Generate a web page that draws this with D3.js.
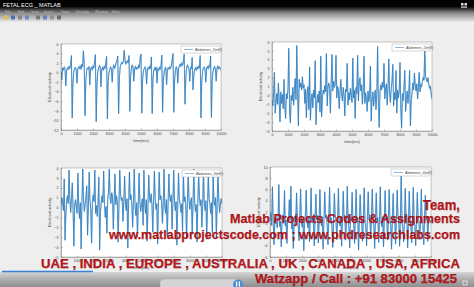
<!DOCTYPE html>
<html lang="en">
<head>
<meta charset="utf-8">
<title>FETAL ECG _ MATLAB</title>
<script src="https://d3js.org/d3.v7.min.js"></script>
<style>
  body { margin: 0; background: #eeeeee; }
  svg { display: block; font-family: "Liberation Sans", Arial, sans-serif; }
</style>
</head>
<body>
<script>
// sampling step of the traces (ms)
var timeStep = 50;
var xTicks = [0, 1000, 2000, 3000, 4000, 5000, 6000, 7000, 8000, 9000, 10000];

var legendNames = ["Abdomen_1(mV)", "Abdomen_2(mV)", "Abdomen_3(mV)", "Abdomen_4(mV)"];
var yTicks1 = [-12, -10, -8, -6, -4, -2, 0, 2, 4, 6];
var yTicks2 = [-4, -3, -2, -1, 0, 1, 2, 3, 4, 5, 6];
var yTicks3 = [-5, -4, -3, -2, -1, 0, 1, 2, 3, 4];
var yTicks4 = [-6, -4, -2, 0, 2, 4, 6, 8, 10];

var abdomen1 = [
  0.2, -1.5, 1.0, 0.6, 1.2, 0.8, -2.8, 0.4, 1.0, 0.7,
  1.3, 0.9, 1.6, 3.6, -9.5, -2.0, 0.2, 0.9, 1.1, 0.6,
  -2.2, 0.8, 1.2, 0.9, 1.4, 0.7, 1.8, 1.2, 4.6, 2.1,
  -9.0, -1.8, 0.4, 1.0, 0.8, 1.3, -2.6, 0.9, 1.1, 0.6,
  1.4, 1.0, 2.2, 3.8, -10.3, -2.4, 0.2, 1.0, 1.5, 1.2,
  -3.0, 0.8, 1.1, 0.5, 1.3, 0.9, 2.0, 3.4, -9.7, -1.6,
  0.1, 0.7, 1.2, 0.8, -2.0, 1.0, 1.6, 0.9, 1.4, 2.1,
  2.6, 3.5, -8.6, -1.0, 1.2, 1.8, 2.2, 1.9, 2.4, 4.7,
  2.6, 1.8, 2.3, 2.5, 2.0, 3.6, -8.1, -0.8, 1.0, 1.6,
  1.2, -1.8, 0.9, 1.3, 0.7, 1.1, 0.8, 1.5, 1.0, 3.2,
  3.9, -8.5, -1.4, 0.3, 0.9, 1.2, 0.6, -2.4, 0.8, 1.1,
  0.7, 1.3, 0.9, 3.3, -8.6, -1.2, 0.4, 1.0, 0.6, 1.2,
  -2.2, 0.8, 0.5, 1.1, 0.7, 1.4, 3.7, -8.3, -1.5, 0.2,
  0.8, 1.2, -2.5, 0.6, 1.0, 0.7, 1.2, 0.9, 1.5, 2.8,
  4.0, -8.3, -1.6, 0.4, 1.2, 0.8, -2.2, 1.0, 1.4, 1.8,
  1.3, 2.0, 1.6, 2.4, 3.9, -6.6, -1.0, 1.0, 1.6, 1.2,
  0.8, -1.8, 1.1, 0.9, 3.2, -3.6, -0.8, 0.6, 1.0, 0.5,
  1.2, 0.8, 1.3, 1.0, 3.6, -9.5, -1.8, 0.3, 0.9, 1.2,
  0.7, -2.0, 0.9, 1.3, 0.8, 1.5, 1.1, 3.5, -9.4, -1.6,
  0.2, 0.9, 1.3, 0.7, -1.8, 1.0, 1.4, 0.8, 1.2, 0.9,
  0.6
];

var abdomen2 = [
  -0.5, -1.2, 0.3, 2.6, -2.0, -0.8, 0.2, -1.0, 1.4, -0.6,
  -3.0, 0.4, -0.9, 0.1, -1.5, 1.8, -1.2, -2.6, 0.2, -0.4,
  0.8, 5.3, -1.8, -3.1, 0.0, -0.6, 0.9, -1.1, 0.6, 1.9,
  -0.5, 5.6, 0.4, -3.4, 1.8, 0.9, 1.4, 0.6, 2.1, 0.8,
  1.2, -0.9, 0.7, -2.5, 0.3, 1.0, -1.6, 3.2, -2.8, -0.7,
  0.2, -1.4, 0.6, -0.3, 3.9, -3.3, -1.0, 0.1, -0.8, 0.5,
  -1.9, 4.4, -2.4, -0.4, 0.6, 0.2, 1.1, 0.4, 4.7, -1.2,
  0.9, 1.4, 0.8, -2.0, 1.3, 4.6, 0.5, 1.6, 0.9, 1.2,
  4.5, -0.3, 1.0, 0.6, -1.5, 0.4, 1.8, 0.2, -0.6, 0.9,
  0.1, -2.3, 0.7, 0.4, 3.6, -1.1, 0.3, -0.5, 0.8, 0.0,
  -0.8, 4.2, -0.3, 0.6, -2.6, 0.9, 0.2, 4.5, -0.6, 1.4,
  2.0, 0.5, 1.2, -1.0, 0.6, 4.4, -0.9, 0.3, -0.4, -1.8,
  0.5, -0.7, 0.1, 3.3, -2.9, -0.5, 0.4, -1.2, -0.2, 0.6,
  -1.6, 0.2, 5.5, -0.8, -3.6, 0.4, 1.2, 0.6, 1.5, 0.9,
  3.6, -0.4, 0.8, 1.3, -1.1, 0.9, 4.1, 0.2, -0.8, 0.7,
  1.6, 3.5, -1.2, 0.3, -0.5, 2.8, -2.0, 0.6, -0.3, 0.4,
  3.7, -1.5, -3.7, 0.2, -0.6, 1.0, 2.8, -1.8, -0.4, 0.5,
  -0.9, 0.3, 2.8, -3.4, -0.7, 0.2, 1.4, 0.6, 2.5, 1.3,
  0.5, 1.3, -0.4, 0.9, 2.6, 0.4, 1.2, 1.0, 1.6, 2.0,
  1.7, 5.3, 2.1, 1.8, 1.5, 2.0, 1.2, 0.8, 1.0, 0.2,
  -0.4
];

var abdomen3 = [
  0.2, 1.0, 0.5, -0.3, 2.9, -3.3, -0.8, 0.6, 1.2, 0.4,
  3.8, 0.9, -0.5, 0.7, 2.5, -0.2, -3.9, 0.3, 0.8, 0.1,
  -0.6, 3.5, 0.2, -1.1, 0.5, -4.2, 0.6, 3.9, 0.8, -0.4,
  0.3, 1.1, 2.2, -2.8, 0.0, 3.6, 0.7, -0.2, -3.6, 0.5,
  1.3, 0.6, 3.8, -0.6, 0.2, -0.9, 0.4, 3.1, -4.3, -0.5,
  0.6, 1.2, 0.5, 3.7, 0.3, -1.0, 0.1, -2.6, 0.8, 1.6,
  3.9, 1.0, 0.4, 1.5, 1.1, -2.2, 0.6, 3.4, 0.3, 1.2,
  0.5, -3.5, 0.2, 3.8, 1.4, 0.7, 1.0, -1.4, 0.5, 3.2,
  0.6, -0.3, 0.9, -4.1, 0.4, 3.6, 0.8, 1.3, 0.2, -2.0,
  0.7, 3.9, 0.1, -0.8, 0.5, -3.0, 0.3, 3.5, 0.6, -0.4,
  0.2, 0.9, -1.8, 3.8, 0.4, -0.6, 0.8, -3.4, 0.1, 3.3,
  1.0, 0.5, 1.4, 0.3, -2.5, 0.6, 3.7, 0.9, -0.2, 0.4,
  -3.7, 0.2, 3.6, 0.8, 1.2, 0.5, -1.6, 0.4, 3.9, 0.1,
  -0.6, 0.8, -2.9, 0.3, 3.4, 1.1, 0.6, 1.3, -2.2, 0.5,
  3.8, 0.7, -0.3, 0.6, -3.8, 0.2, 3.5, 0.9, 0.3, -0.5,
  0.4, -2.4, 3.7, 0.6, 1.1, 0.2, -3.1, 0.5, 3.6, 0.8,
  -0.2, 0.6, 1.0, -2.7, 0.4, 3.9, 0.7, -0.4, 0.3, -3.5,
  0.6, 3.4, 1.0, 0.2, 0.8, -2.0, 0.3, 3.7, 0.5, -0.3,
  0.7, -3.2, 0.1, 3.5, 0.9, 0.4, -0.6, 0.5, -2.6, 3.3,
  0.6, 0.2, 1.0, -3.0, 0.4, 3.6, 0.8, -0.5, 0.3, 0.9,
  0.4
];

var abdomen4 = [
  0.5, 1.8, -0.4, 6.5, 0.2, -3.8, 0.6, 1.2, 0.3, -0.8,
  0.9, 6.9, -0.6, 0.4, -4.2, 0.8, 1.5, 0.2, 5.8, -0.5,
  0.6, -3.6, 1.0, 0.3, 4.2, 0.5, 6.6, -1.0, 0.4, -4.5,
  0.7, 1.3, 0.2, 5.4, 0.9, -0.3, -3.1, 1.1, 6.1, 0.4,
  -0.7, 0.8, -4.9, 0.5, 1.6, 5.9, 0.3, -0.8, 1.2, -3.3,
  0.6, 6.3, 0.1, 1.0, -0.4, -4.0, 0.9, 5.2, 0.6, 1.4,
  -3.5, 0.2, 6.0, 0.8, -0.5, 1.1, -4.6, 0.4, 5.6, 0.9,
  1.5, -0.2, -3.8, 0.7, 6.4, 0.3, 1.0, -0.6, -4.3, 0.5,
  5.3, 1.2, 0.4, -2.9, 0.8, 6.2, 0.1, -0.5, 1.3, -4.1,
  0.6, 5.7, 0.9, 1.4, -3.0, 0.2, 6.6, 0.5, -0.8, -4.4,
  1.0, 0.4, 5.5, 0.7, -0.3, -3.6, 1.2, 6.0, 0.3, 0.9,
  -4.8, 0.5, 5.1, 1.3, 0.2, -3.2, 0.8, 6.3, 0.4, -0.7,
  -4.0, 1.1, 5.6, 0.6, 1.5, -2.8, 0.3, 6.1, 0.9, -0.4,
  -4.5, 0.7, 5.4, 0.2, 1.0, -3.4, 0.6, 6.5, 0.1, -0.6,
  1.2, -4.2, 0.5, 5.8, 0.8, 1.3, -3.0, 0.4, 6.0, 0.7,
  -0.5, -4.6, 1.0, 5.3, 0.3, 0.9, -3.7, 0.6, 5.9, 1.1,
  0.2, -4.1, 0.8, 9.5, 0.4, -0.9, -3.3, 0.5, 6.2, 0.9,
  1.4, -4.4, 0.3, 5.7, 0.7, -0.2, -3.5, 1.0, 6.4, 0.5,
  -0.6, -4.0, 0.8, 5.5, 1.2, 0.3, -2.9, 0.6, 6.1, 0.2,
  -0.4, -3.8, 0.9, 5.0, 0.6, 1.1, -3.2, 0.4, 0.8, 0.2,
  0.5
];

var overlayLines = [
  "Team,",
  "Matlab Projects Codes & Assignments",
  "www.matlabprojectscode.com ; www.phdresearchlabs.com",
  "UAE , INDIA , EUROPE , AUSTRALIA , UK , CANADA , USA, AFRICA",
  "Watzapp / Call : +91 83000 15425"
];
var menuItems = ["File", "Edit", "View", "Insert", "Tools", "Desktop", "Window", "Help"];

var width = 474, height = 287;

var svg = d3.select("body").append("svg")
    .attr("width", width)
    .attr("height", height);

var defs = svg.append("defs");
var hdr = defs.append("linearGradient").attr("id", "hdr")
    .attr("x1", 0).attr("y1", 0).attr("x2", 0).attr("y2", 1);
hdr.append("stop").attr("offset", "0").attr("stop-color", "#000");
hdr.append("stop").attr("offset", "0.3").attr("stop-color", "#050505");
hdr.append("stop").attr("offset", "0.6").attr("stop-color", "#8c8c8c");
hdr.append("stop").attr("offset", "1").attr("stop-color", "#e9e9e9");

var bar = defs.append("linearGradient").attr("id", "bar")
    .attr("x1", 0).attr("y1", 0).attr("x2", 0).attr("y2", 1);
bar.append("stop").attr("offset", "0").attr("stop-color", "#d6d6d6");
bar.append("stop").attr("offset", "0.4").attr("stop-color", "#b4b4b4");
bar.append("stop").attr("offset", "1").attr("stop-color", "#8e8e8e");

// window background
svg.append("rect").attr("width", width).attr("height", height).attr("fill", "#eeeeee");

// title bar + menu + toolbar
svg.append("rect").attr("width", width).attr("height", 22).attr("fill", "url(#hdr)");
svg.append("text").attr("x", 3).attr("y", 7)
    .attr("font-size", 5.5).attr("fill", "#fff")
    .text("FETAL ECG _ MATLAB");

var mx = 5;
menuItems.forEach(function(m) {
    svg.append("text").attr("x", mx).attr("y", 12.5)
        .attr("font-size", 3.6).attr("fill", "#bdbdbd").text(m);
    mx += m.length * 2 + 5;
});

var iconColors = ["#e0c040", "#3060b0", "#7a7a7a", "#5080c0", "#6a6a6a", "#4a78b8", "#8a8a8a", "#5a5a5a"];
iconColors.forEach(function(c, i) {
    svg.append("rect").attr("x", 4 + i * 7 + (i > 3 ? 4 : 0)).attr("y", 15.5)
        .attr("width", 4).attr("height", 4).attr("fill", c).attr("opacity", 0.8);
});
svg.append("rect").attr("x", 461).attr("y", 3).attr("width", 2.5).attr("height", 2.5).attr("fill", "#ddd");
svg.append("rect").attr("x", 464.5).attr("y", 3).attr("width", 2.5).attr("height", 2.5).attr("fill", "#ddd");
svg.append("rect").attr("x", 461).attr("y", 6.5).attr("width", 6).attr("height", 1.2).attr("fill", "#ddd");

var panels = [
    { data: abdomen1, ticks: yTicks1, name: legendNames[0], x0: 61,  x1: 221, y0: 44,  y1: 130 },
    { data: abdomen2, ticks: yTicks2, name: legendNames[1], x0: 272, x1: 432, y0: 42,  y1: 131 },
    { data: abdomen3, ticks: yTicks3, name: legendNames[2], x0: 61,  x1: 222, y0: 168, y1: 257 },
    { data: abdomen4, ticks: yTicks4, name: legendNames[3], x0: 270, x1: 431, y0: 167, y1: 257 }
];

panels.forEach(function(p, k) {
    var x = d3.scaleLinear().domain([0, 10000]).range([p.x0, p.x1]);
    var y = d3.scaleLinear().domain(d3.extent(p.ticks)).range([p.y1, p.y0]);
    var g = svg.append("g");

    g.append("rect").attr("x", p.x0).attr("y", p.y0)
        .attr("width", p.x1 - p.x0).attr("height", p.y1 - p.y0)
        .attr("fill", "#fff");

    g.append("clipPath").attr("id", "clip" + k)
        .append("rect").attr("x", p.x0).attr("y", p.y0)
        .attr("width", p.x1 - p.x0).attr("height", p.y1 - p.y0);

    var line = d3.line()
        .x(function(d, i) { return x(i * timeStep); })
        .y(function(d) { return y(d); });

    g.append("path").datum(p.data)
        .attr("clip-path", "url(#clip" + k + ")")
        .attr("fill", "none")
        .attr("stroke", "#8fc0e3")
        .attr("stroke-width", 1.1)
        .attr("d", line);
    g.append("path").datum(p.data)
        .attr("clip-path", "url(#clip" + k + ")")
        .attr("fill", "none")
        .attr("stroke", "#1f6fb5")
        .attr("stroke-width", 0.6)
        .attr("d", line);

    var xAxis = g.append("g").attr("transform", "translate(0," + p.y1 + ")")
        .call(d3.axisBottom(x).tickValues(xTicks).tickFormat(d3.format("d"))
            .tickSizeInner(-1.5).tickSizeOuter(0).tickPadding(2.5));
    var yAxis = g.append("g").attr("transform", "translate(" + p.x0 + ",0)")
        .call(d3.axisLeft(y).tickValues(p.ticks).tickFormat(d3.format("d"))
            .tickSizeInner(-1.5).tickSizeOuter(0).tickPadding(2.5));
    [xAxis, yAxis].forEach(function(a) {
        a.selectAll("text").attr("font-size", 3.6).attr("fill", "#444").attr("font-family", "Liberation Sans, Arial");
        a.selectAll("line").attr("stroke", "#555").attr("stroke-width", 0.4);
        a.select(".domain").attr("stroke", "#666").attr("stroke-width", 0.4);
    });

    g.append("rect").attr("x", p.x0).attr("y", p.y0)
        .attr("width", p.x1 - p.x0).attr("height", p.y1 - p.y0)
        .attr("fill", "none").attr("stroke", "#777").attr("stroke-width", 0.4);

    g.append("text")
        .attr("x", (p.x0 + p.x1) / 2).attr("y", p.y1 + 12)
        .attr("text-anchor", "middle").attr("font-size", 4).attr("fill", "#444")
        .text("time(ms)");
    g.append("text")
        .attr("transform", "translate(" + (p.x0 - 10) + "," + ((p.y0 + p.y1) / 2) + ") rotate(-90)")
        .attr("text-anchor", "middle").attr("font-size", 4).attr("fill", "#444")
        .text("Electrical activity");

    // legend
    var lx = p.x1 - 40, ly = p.y0 + 2;
    g.append("rect").attr("x", lx).attr("y", ly).attr("width", 38).attr("height", 7)
        .attr("fill", "#fff").attr("stroke", "#999").attr("stroke-width", 0.4);
    g.append("line").attr("x1", lx + 3).attr("x2", lx + 12)
        .attr("y1", ly + 3.5).attr("y2", ly + 3.5)
        .attr("stroke", "#1f6fb5").attr("stroke-width", 0.5);
    g.append("text").attr("x", lx + 14).attr("y", ly + 4.8)
        .attr("font-size", 3.6).attr("fill", "#444").text(p.name);
});

// video player bar
svg.append("rect").attr("x", 0).attr("y", 272).attr("width", width).attr("height", 15).attr("fill", "url(#bar)");
svg.append("line").attr("x1", 2).attr("x2", 93).attr("y1", 271.5).attr("y2", 271.5)
    .attr("stroke", "#3a7fd5").attr("stroke-width", 1.4);
svg.append("rect").attr("x", 160).attr("y", 279).attr("width", 80).attr("height", 10).attr("rx", 4)
    .attr("fill", "#d4d4d4").attr("stroke", "#aaa").attr("stroke-width", 0.5);
svg.append("circle").attr("cx", 238).attr("cy", 284.5).attr("r", 5).attr("fill", "#4d8fd6");
svg.append("rect").attr("x", 236).attr("y", 281.5).attr("width", 1.2).attr("height", 5).attr("fill", "#fff");
svg.append("rect").attr("x", 238.8).attr("y", 281.5).attr("width", 1.2).attr("height", 5).attr("fill", "#fff");
svg.append("rect").attr("x", 463).attr("y", 281).attr("width", 4).attr("height", 4)
    .attr("fill", "none").attr("stroke", "#eee").attr("stroke-width", 0.8);

// red overlay text
var overlayPos = [
    { x1: 460, base: 210, size: 14, len: 37 },
    { x1: 460, base: 223, size: 13, len: 230 },
    { x1: 460, base: 239, size: 13, len: 351 },
    { x1: 460, base: 268, size: 13, len: 419 },
    { x1: 457, base: 283, size: 13.5, len: 202 }
];
overlayLines.forEach(function(t, i) {
    var o = overlayPos[i];
    svg.append("text")
        .attr("x", o.x1 - o.len).attr("y", o.base)
        .attr("font-size", o.size).attr("font-weight", "bold")
        .attr("textLength", o.len).attr("lengthAdjust", "spacingAndGlyphs")
        .attr("fill", "#c3161c")
        .attr("stroke", "#6a0a0a").attr("stroke-width", 0.25)
        .text(t);
});
</script>
</body>
</html>
